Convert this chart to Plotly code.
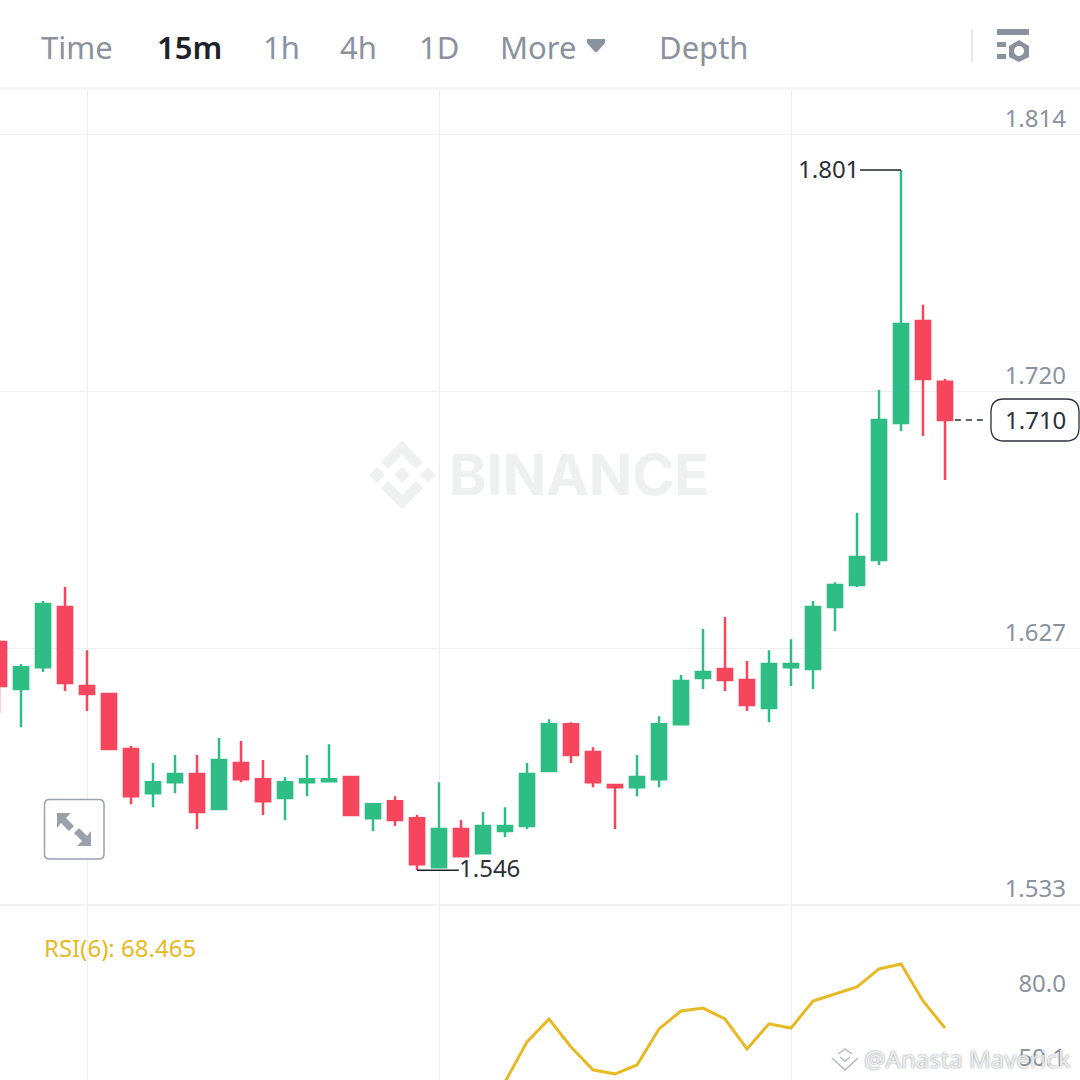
import plotly.graph_objects as go

# === DATA ===
candle_idx = list(range(44))
opens = [1.6290, 1.6118, 1.6198, 1.6417, 1.6129, 1.6100, 1.5899, 1.5738, 1.5778, 1.5808, 1.5680,
         1.5848, 1.5789, 1.5720, 1.5778, 1.5782, 1.5797, 1.5647, 1.5709, 1.5647, 1.5468, 1.5607,
         1.5519, 1.5600, 1.5618, 1.5819, 1.5990, 1.5888, 1.5768, 1.5760, 1.5789, 1.5990, 1.6158,
         1.6191, 1.6151, 1.6049, 1.6198, 1.6191, 1.6417, 1.6498, 1.6589, 1.7089, 1.7461, 1.7239]
highs = [1.6297, 1.6209, 1.6439, 1.6490, 1.6260, 1.6100, 1.5910, 1.5848, 1.5877, 1.5877, 1.5939,
         1.5928, 1.5859, 1.5797, 1.5877, 1.5917, 1.5797, 1.5698, 1.5727, 1.5658, 1.5778, 1.5640,
         1.5669, 1.5687, 1.5848, 1.6008, 1.5997, 1.5906, 1.5768, 1.5877, 1.6019, 1.6169, 1.6337,
         1.6381, 1.6220, 1.6260, 1.6300, 1.6439, 1.6508, 1.6760, 1.7209, 1.8012, 1.7520, 1.7249]
lows = [1.6030, 1.5979, 1.6180, 1.6111, 1.6038, 1.5899, 1.5698, 1.5687, 1.5738, 1.5607, 1.5680,
        1.5778, 1.5658, 1.5640, 1.5727, 1.5782, 1.5658, 1.5600, 1.5618, 1.5457, 1.5468, 1.5508,
        1.5519, 1.5578, 1.5607, 1.5819, 1.5848, 1.5760, 1.5607, 1.5727, 1.5760, 1.5990, 1.6118,
        1.6111, 1.6038, 1.5997, 1.6129, 1.6118, 1.6330, 1.6490, 1.6571, 1.7060, 1.7041, 1.6881]
closes = [1.6129, 1.6198, 1.6428, 1.6140, 1.6100, 1.5899, 1.5727, 1.5778, 1.5808, 1.5669, 1.5859,
          1.5789, 1.5709, 1.5778, 1.5789, 1.5789, 1.5658, 1.5698, 1.5640, 1.5479, 1.5607, 1.5508,
          1.5618, 1.5618, 1.5808, 1.5990, 1.5877, 1.5778, 1.5760, 1.5797, 1.5990, 1.6147, 1.6180,
          1.6151, 1.6060, 1.6209, 1.6209, 1.6417, 1.6498, 1.6600, 1.7100, 1.7450, 1.7249, 1.7100]

rsi_idx = list(range(23, 44))
rsi_values = [39.7, 56.2, 65.6, 54.1, 44.7, 43.0, 46.7, 61.5, 68.9, 70.1, 65.6,
              53.3, 63.6, 61.9, 73.0, 75.9, 78.8, 86.2, 88.2, 73.0, 61.9]

price_ticks = [1.814, 1.7203, 1.6267, 1.533]
price_labels = ["1.814", "1.720", "1.627", "1.533"]
rsi_ticks = [80, 49.6]
rsi_labels = ["80.0", "50.1"]
grid_idx = [4, 20, 36]

tabs = ["Time", "15m", "1h", "4h", "1D", "More", "Depth"]
tab_x = [39, 155, 261, 338, 417, 498, 657]

# === STYLE ===
GREEN = "#2EBD85"
RED = "#F6465D"
GRID = "#ECEEF2"
MUTED = "#8A929E"
DARK = "#2B3139"
YELLOW = "#E8B923"
FONT = "Noto Sans"
SIZE = 1080


def px(x, y):
    return x / SIZE, 1 - y / SIZE


def path_of(points, closed=True):
    coords = [px(x, y) for x, y in points]
    return "M " + " L ".join(f"{x:.5f} {y:.5f}" for x, y in coords) + (" Z" if closed else "")


def round_rect(x0, y0, x1, y1, r):
    pts = [
        ("M", x0 + r, y0), ("L", x1 - r, y0), ("Q", x1, y0, x1, y0 + r), ("L", x1, y1 - r),
        ("Q", x1, y1, x1 - r, y1), ("L", x0 + r, y1), ("Q", x0, y1, x0, y1 - r),
        ("L", x0, y0 + r), ("Q", x0, y0, x0 + r, y0),
    ]
    out = []
    for p in pts:
        nums = p[1:]
        part = [p[0]]
        for i in range(0, len(nums), 2):
            a, b = px(nums[i], nums[i + 1])
            part.append(f"{a:.5f} {b:.5f}")
        out.append(" ".join(part))
    return " ".join(out) + " Z"


def add_poly(fig, points, color, layer="above"):
    fig.add_shape(type="path", path=path_of(points), xref="paper", yref="paper",
                  fillcolor=color, line=dict(width=0), layer=layer)


def add_stroke(fig, points, color, width):
    fig.add_shape(type="path", path=path_of(points, closed=False), xref="paper", yref="paper",
                  line=dict(color=color, width=width))


def add_rule(fig, x0, y0, x1, y1, color, width=1, dash="solid", layer="above"):
    a, b = px(x0, y0)
    c, d = px(x1, y1)
    fig.add_shape(type="line", x0=a, y0=b, x1=c, y1=d, xref="paper", yref="paper",
                  line=dict(color=color, width=width, dash=dash), layer=layer)


def add_label(fig, x, y, text, color, size, anchor="left", family=FONT, **kw):
    a, b = px(x, y)
    fig.add_annotation(x=a, y=b, xref="paper", yref="paper", text=text, showarrow=False,
                       xanchor=anchor, yanchor="middle",
                       font=dict(family=family, size=size, color=color, **kw))


# === TRACES ===
fig = go.Figure()
fig.add_trace(go.Candlestick(
    x=candle_idx, open=opens, high=highs, low=lows, close=closes,
    whiskerwidth=0,
    increasing=dict(line=dict(color=GREEN, width=2.5), fillcolor=GREEN),
    decreasing=dict(line=dict(color=RED, width=2.5), fillcolor=RED),
    showlegend=False, xaxis="x", yaxis="y",
))
fig.add_trace(go.Scatter(
    x=rsi_idx, y=rsi_values, mode="lines", line=dict(color=YELLOW, width=3),
    showlegend=False, xaxis="x", yaxis="y2",
))

fig.update_layout(
    width=SIZE, height=SIZE, autosize=False,
    margin=dict(l=0, r=0, t=0, b=0),
    paper_bgcolor="white", plot_bgcolor="rgba(0,0,0,0)",
    boxgap=0.08,
    hovermode=False,
    xaxis=dict(range=[0.045, 49.136], tickvals=grid_idx, showticklabels=False, ticks="",
               showgrid=True, gridcolor=GRID, gridwidth=1, zeroline=False, showline=False,
               rangeslider=dict(visible=False), domain=[0, 1], anchor="y2"),
    yaxis=dict(domain=[0.16204, 0.91667], range=[1.533, 1.8304], side="right",
               tickvals=price_ticks, ticktext=price_labels, ticks="",
               ticklabelposition="inside", ticklabelstandoff=11, ticklabelshift=-16,
               tickfont=dict(family=FONT, size=24, color=MUTED),
               showgrid=True, gridcolor=GRID, gridwidth=1, zeroline=False, showline=False),
    yaxis2=dict(domain=[0, 0.16204], range=[40.5, 112.5], side="right",
                tickvals=rsi_ticks, ticktext=rsi_labels, ticks="",
                ticklabelposition="inside", ticklabelstandoff=11,
                tickfont=dict(family=FONT, size=24, color=MUTED),
                showgrid=False, zeroline=False, showline=False),
)

# === HEADER ===
for tab, x in zip(tabs, tab_x):
    if tab == "15m":
        add_label(fig, x, 47, tab, "#1E2329", 31, weight=600)
    else:
        add_label(fig, x, 47, tab, MUTED, 31)

add_poly(fig, [(587, 39), (605, 39), (605, 43), (597, 52), (595, 52), (587, 43)], MUTED)
add_rule(fig, 0, 88.5, 1080, 88.5, "#F5F6F6", width=3)
add_rule(fig, 972, 29, 972, 62, "#E6E8EA", width=2)

# settings icon
add_poly(fig, [(997, 29), (1029, 29), (1029, 35), (997, 35)], MUTED)
add_poly(fig, [(997, 42), (1006, 42), (1006, 47), (997, 47)], MUTED)
add_poly(fig, [(997, 54), (1006, 54), (1006, 59), (997, 59)], MUTED)
add_poly(fig, [(1019, 40), (1029, 46), (1029, 57), (1019, 62), (1009, 57), (1009, 46)], MUTED)
a0, b0 = px(1014, 46)
a1, b1 = px(1024, 56)
fig.add_shape(type="circle", x0=a0, y0=b0, x1=a1, y1=b1, xref="paper", yref="paper",
              fillcolor="white", line=dict(width=0))

# === WATERMARK ===
MARK = "#EFF1F1"
add_poly(fig, [(402, 467), (410, 475), (402, 483), (394, 475)], MARK, "below")
add_poly(fig, [(377, 467), (385, 475), (377, 483), (369, 475)], MARK, "below")
add_poly(fig, [(428, 467), (436, 475), (428, 483), (420, 475)], MARK, "below")
add_poly(fig, [(402, 441), (423, 462), (416, 469), (402, 455), (388, 469), (381, 462)], MARK, "below")
add_poly(fig, [(402, 509), (423, 488), (416, 481), (402, 495), (388, 481), (381, 488)], MARK, "below")
add_label(fig, 447, 474, "BINANCE", MARK, 57, family="Inter", weight=700)

# === EXPAND BUTTON ===
fig.add_shape(type="path", path=round_rect(44.5, 799.5, 104, 859, 5), xref="paper", yref="paper",
              fillcolor="rgba(255,255,255,0.9)", line=dict(color="#9AA1AC", width=1.5))
add_poly(fig, [(57, 813), (71, 813), (66, 818), (74, 826), (69, 831), (61, 823), (57, 828)], "#9AA1AC")
add_poly(fig, [(91, 846), (77, 846), (82, 841), (74, 833), (79, 828), (87, 836), (91, 831)], "#9AA1AC")

# === HIGH / LOW / LAST LABELS ===
high_i = highs.index(max(highs))
low_i = lows.index(min(lows))
fig.add_shape(type="line", x0=high_i - 1.86, x1=high_i, y0=highs[high_i], y1=highs[high_i],
              xref="x", yref="y", line=dict(color="#1E2329", width=1.5))
fig.add_annotation(x=high_i - 1.82, y=highs[high_i], xref="x", yref="y", text="1.801", showarrow=False,
                   xanchor="right", yanchor="middle", yshift=2,
                   font=dict(family=FONT, size=24, color=DARK))
fig.add_shape(type="line", x0=low_i, x1=low_i + 1.9, y0=lows[low_i], y1=lows[low_i],
              xref="x", yref="y", line=dict(color="#1E2329", width=1.5))
fig.add_annotation(x=low_i + 1.82, y=lows[low_i], xref="x", yref="y", text="1.546", showarrow=False,
                   xanchor="left", yanchor="middle", yshift=3,
                   font=dict(family=FONT, size=24, color=DARK))

fig.add_shape(type="line", x0=43.45, x1=44.8, y0=closes[-1], y1=closes[-1], xref="x", yref="y",
              line=dict(color=DARK, width=1.5, dash="6px,5px"))
fig.add_shape(type="path", path=round_rect(991, 399, 1079, 441, 13), xref="paper", yref="paper",
              fillcolor="white", line=dict(color=DARK, width=1.3))
add_label(fig, 1035, 420, "1.710", DARK, 24, anchor="center")

# === RSI PANE ===
add_rule(fig, 0, 905, 1080, 905, GRID, width=1.5, layer="below")
add_label(fig, 42, 947, "RSI(6): 68.465", YELLOW, 24)

# === FOOTER WATERMARK ===
WM = "#B3B7BC"
add_stroke(fig, [(832, 1058), (845, 1070), (858, 1058)], WM, 1.4)
add_stroke(fig, [(838, 1054), (845, 1049), (852, 1054)], WM, 1.4)
add_stroke(fig, [(840, 1057), (845, 1061), (850, 1057)], WM, 1.4)
add_label(fig, 862, 1058, "@Anasta Maverick", "rgba(255,255,255,0.8)", 24,
          shadow="0px 0px 2px #5F656C")

fig.write_html("out.html", config=dict(displayModeBar=False),
               post_script="document.body.style.margin='0';document.documentElement.style.overflow='hidden';")
